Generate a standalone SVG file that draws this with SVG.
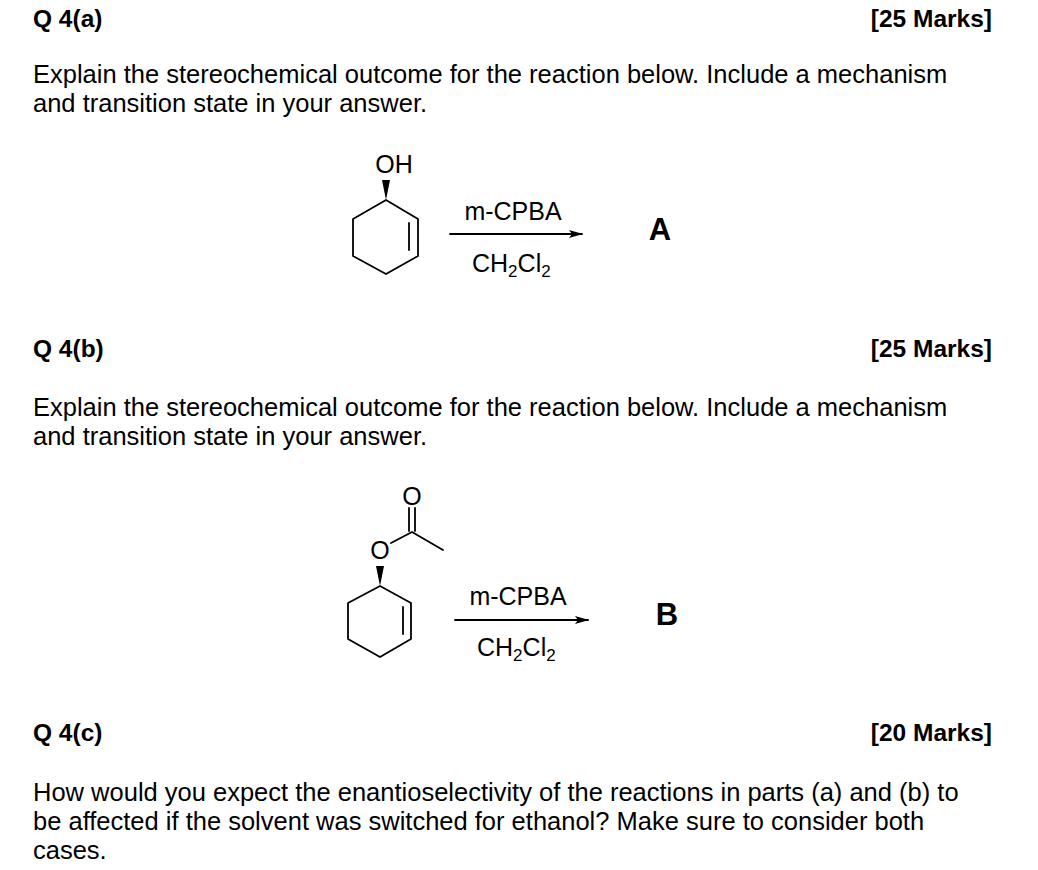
<svg xmlns="http://www.w3.org/2000/svg" width="1038" height="870" viewBox="0 0 1038 870">
<style>
text{font-family:"Liberation Sans",Arial,sans-serif;fill:#000}
.h{font-size:24.5px;font-weight:bold}
.b{font-size:25.5px}
.l{font-size:25px}
.s{font-size:17px}
.big{font-size:31px;font-weight:bold}
.bond{stroke:#000;stroke-width:1.8;fill:none;stroke-linecap:round;stroke-linejoin:round}
</style>
<defs><marker id="ar" markerWidth="14" markerHeight="8" refX="13" refY="4" orient="auto" markerUnits="userSpaceOnUse"><path d="M0,0 L14,4 L0,8 L3,4 Z" fill="#000"/></marker></defs>
<rect width="1038" height="870" fill="#fff"/>
<text class="h" x="33" y="27">Q 4(a)</text>
<text class="h" x="992" y="27" text-anchor="end">[25 Marks]</text>
<text class="b" x="33" y="83">Explain the stereochemical outcome for the reaction below. Include a mechanism</text>
<text class="b" x="33" y="112">and transition state in your answer.</text>
<g id="molA">
<path class="bond" d="M386,200 L418,219 L418,256 L386,274 L353,256 L353,219 Z M409,223 L409,250"/>
<path d="M386,200 L382,180 L390,180 Z" fill="#000"/>
<text class="l" x="394" y="173" text-anchor="middle">OH</text>
</g>
<g id="connectors">
<line class="bond" x1="450" y1="234" x2="582" y2="234" marker-end="url(#ar)"/>
<line class="bond" x1="455" y1="620" x2="588" y2="620" marker-end="url(#ar)"/>
</g>
<text class="l" x="513" y="220" text-anchor="middle">m-CPBA</text>
<text class="l" x="472" y="272">CH<tspan class="s" dy="5">2</tspan><tspan dy="-5">Cl</tspan><tspan class="s" dy="5">2</tspan></text>
<text class="big" x="660" y="240" text-anchor="middle">A</text>
<text class="h" x="33" y="357">Q 4(b)</text>
<text class="h" x="992" y="357" text-anchor="end">[25 Marks]</text>
<text class="b" x="33" y="416">Explain the stereochemical outcome for the reaction below. Include a mechanism</text>
<text class="b" x="33" y="445">and transition state in your answer.</text>
<g id="molB">
<path class="bond" d="M380,586 L411,603 L411,639 L380,657 L348,639 L348,603 Z M403,607 L403,634"/>
<path d="M380,586 L376,566 L384,566 Z" fill="#000"/>
<text class="l" x="380" y="559" text-anchor="middle">O</text>
<path class="bond" d="M391,543 L412,532 L443,550 M409,531 L409,508 M415,531 L415,508"/>
<text class="l" x="412" y="505" text-anchor="middle">O</text>
</g>
<text class="l" x="518" y="605" text-anchor="middle">m-CPBA</text>
<text class="l" x="477" y="656">CH<tspan class="s" dy="5">2</tspan><tspan dy="-5">Cl</tspan><tspan class="s" dy="5">2</tspan></text>
<text class="big" x="667" y="625" text-anchor="middle">B</text>
<text class="h" x="33" y="741">Q 4(c)</text>
<text class="h" x="992" y="741" text-anchor="end">[20 Marks]</text>
<text class="b" x="33" y="801">How would you expect the enantioselectivity of the reactions in parts (a) and (b) to</text>
<text class="b" x="33" y="830">be affected if the solvent was switched for ethanol? Make sure to consider both</text>
<text class="b" x="33" y="859">cases.</text>
</svg>
